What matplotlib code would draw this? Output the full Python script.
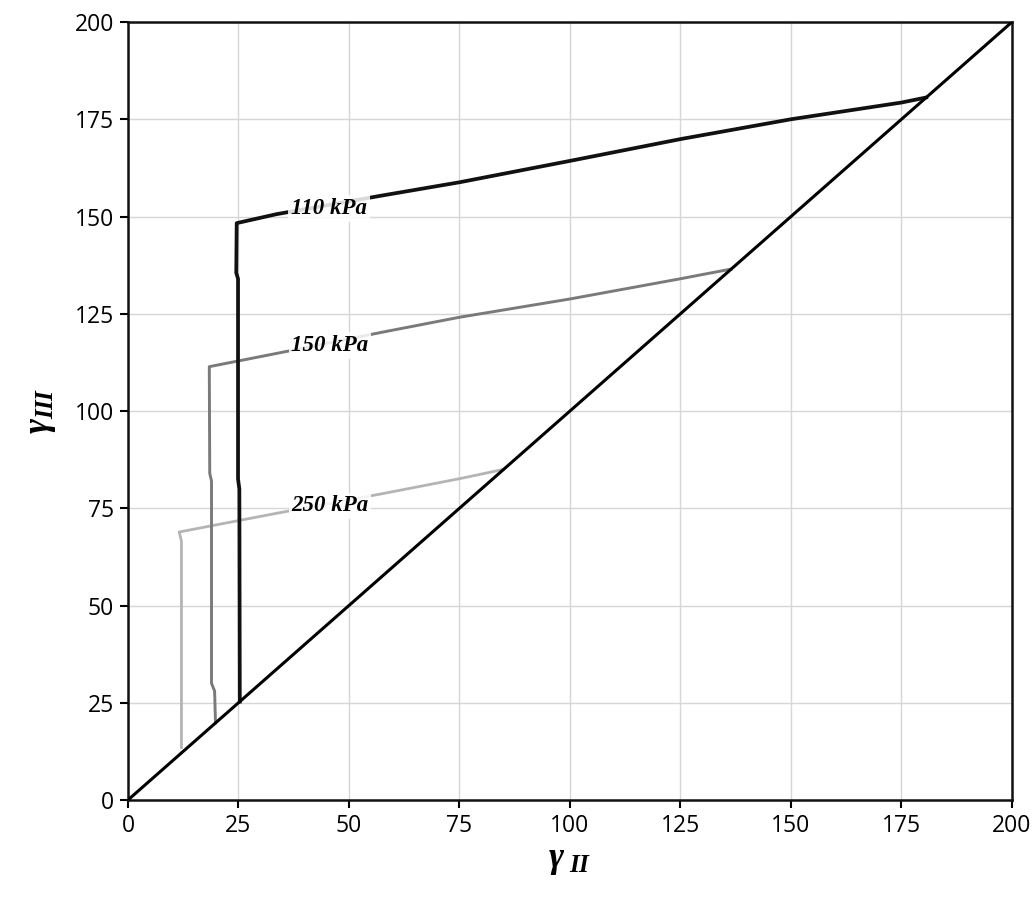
import matplotlib
matplotlib.use('Agg')
import matplotlib.pyplot as plt

# curve data (gamma_II, gamma_III)
x_110 = [25.3, 25.2, 24.9, 24.9, 24.5, 24.6, 33.6, 57.0, 75.0, 100.0, 125.0, 150.0, 175.0, 180.6]
y_110 = [25.3, 80.0, 82.5, 134.0, 135.5, 148.3, 150.6, 155.3, 158.8, 164.3, 169.9, 175.0, 179.3, 180.6]

x_150 = [19.8, 19.6, 18.9, 18.9, 18.5, 18.4, 33.6, 57.7, 75.0, 100.0, 125.0, 136.5]
y_150 = [19.8, 28.0, 30.0, 82.0, 84.0, 111.4, 114.8, 120.3, 124.1, 128.8, 134.0, 136.5]

x_250 = [12.1, 12.1, 11.6, 33.6, 57.8, 75.0, 85.0]
y_250 = [13.5, 66.5, 68.9, 73.7, 78.8, 82.6, 85.0]

diag = [0, 200]

labels = ['110 kPa', '150 kPa', '250 kPa']
label_x = [45.5, 45.7, 45.7]
label_y = [152.0, 116.8, 75.6]

ticks = [0, 25, 50, 75, 100, 125, 150, 175, 200]

plt.rcParams['font.family'] = ['Open Sans', 'DejaVu Sans']
plt.rcParams['mathtext.fontset'] = 'custom'
plt.rcParams['mathtext.it'] = 'Liberation Serif:italic:bold'
plt.rcParams['mathtext.rm'] = 'Liberation Serif:italic:bold'

fig = plt.figure(figsize=(10.32, 9.06), dpi=100)
ax = fig.add_axes([0.124, 0.117, 0.8566, 0.8587])

ax.plot(diag, diag, color='black', lw=2.2, zorder=3)
ax.plot(x_250, y_250, color='#b4b4b4', lw=2.0, zorder=2)
ax.plot(x_150, y_150, color='#7a7a7a', lw=2.1, zorder=2)
ax.plot(x_110, y_110, color='#111111', lw=2.7, zorder=2)

for t, lx, ly in zip(labels, label_x, label_y):
    ax.text(lx, ly, t, ha='center', va='center', fontsize=16.5,
            family='Liberation Serif', style='italic', weight='bold', zorder=4,
            bbox=dict(boxstyle='square,pad=0.12', fc='white', ec='none', alpha=0.85))

ax.set_xlim(0, 200)
ax.set_ylim(0, 200)
ax.set_xticks(ticks)
ax.set_yticks(ticks)
ax.grid(True, color='#d6d6d6', lw=1.0, zorder=0)
ax.set_axisbelow(True)
for s in ax.spines.values():
    s.set_linewidth(1.8)
    s.set_color('#111111')
ax.tick_params(direction='out', length=6, width=1.5, labelsize=16.5, pad=4)

ax.set_xlabel(r'$\gamma_{\ II}$', fontsize=26, labelpad=2)
ax.set_ylabel(r'$\gamma_{III}$', fontsize=26, labelpad=12)

fig.savefig('out.png', dpi=100)
